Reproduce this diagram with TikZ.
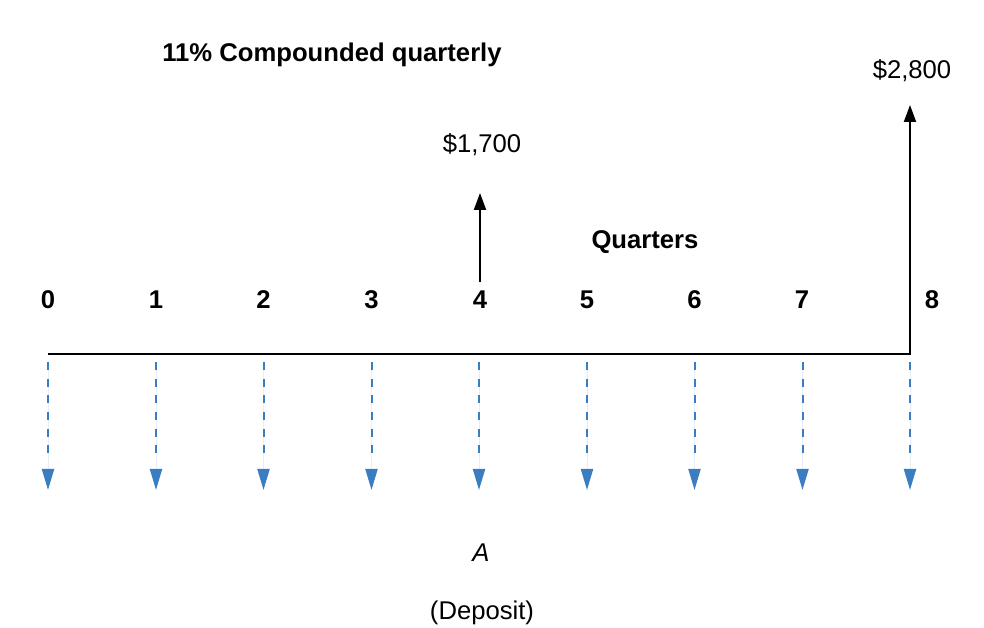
\documentclass[tikz,border=0pt]{standalone}
\usepackage{fontspec}
\setmainfont{Liberation Sans}
\usepackage{xcolor}
\usepackage{tikz}
\usetikzlibrary{positioning, arrows.meta}
\definecolor{ink}{HTML}{000000}
\definecolor{deposit}{HTML}{3A7DC0}
\tikzset{
  lbl/.style  = {font=\fontsize{14.6}{17}\selectfont\bfseries, inner sep=0pt},
  amt/.style  = {font=\fontsize{14.6}{17}\selectfont, inner sep=0pt},
  ar/.style   = {-{Triangle[length=0.34cm,width=0.24cm]}, draw=ink, line width=0.04cm},
  dep/.style  = {-{Triangle[length=0.42cm,width=0.24cm]}, draw=deposit, fill=deposit,
                 line width=0.04cm,
                 dash pattern=on 0.16cm off 0.174cm on 0.16cm off 0.174cm on 0.16cm off 0.174cm
                              on 0.16cm off 0.174cm on 0.16cm off 0.174cm on 0.16cm off 0.6cm},
}
\begin{document}
\begin{tikzpicture}
  \useasboundingbox (0,0) rectangle (19.68,12.56);

  % time axis
  \coordinate (t0) at (0.96,5.48);
  \coordinate (t1) at (3.12,5.48);
  \coordinate (t2) at (5.27,5.48);
  \coordinate (t3) at (7.43,5.48);
  \coordinate (t4) at (9.58,5.48);
  \coordinate (t5) at (11.74,5.48);
  \coordinate (t6) at (13.89,5.48);
  \coordinate (t7) at (16.05,5.48);
  \coordinate (t8) at (18.20,5.48);
  \coordinate (top8) at (18.20,10.46);
  \draw[ar] (t0) -- (t8) -- (top8);

  \node[lbl] (n0) at (0.96,6.56) {0};
  \node[lbl] (n1) at (3.12,6.56) {1};
  \node[lbl] (n2) at (5.27,6.56) {2};
  \node[lbl] (n3) at (7.43,6.56) {3};
  \node[lbl] (n4) at (9.60,6.56) {4};
  \node[lbl] (n5) at (11.74,6.56) {5};
  \node[lbl] (n6) at (13.89,6.56) {6};
  \node[lbl] (n7) at (16.04,6.56) {7};
  \node[lbl] (n8) at (18.64,6.56) {8};

  \node[lbl] (title) at (6.64,11.46) {11\% Compounded quarterly};
  \node[lbl] (quarters) at (12.90,7.72) {Quarters};

  % receipts
  \coordinate (w4) at (9.60,6.92);
  \coordinate (top4) at (9.60,8.70);
  \draw[ar] (w4) -- (top4);
  \node[amt] (r4) at (9.64,9.66) {\$1,700};
  \node[amt] (r8) at (18.24,11.14) {\$2,800};

  % deposits
  \draw[dep] ([yshift=-0.16cm]t0) -- ([yshift=-2.72cm]t0);
  \draw[dep] ([yshift=-0.16cm]t1) -- ([yshift=-2.72cm]t1);
  \draw[dep] ([yshift=-0.16cm]t2) -- ([yshift=-2.72cm]t2);
  \draw[dep] ([yshift=-0.16cm]t3) -- ([yshift=-2.72cm]t3);
  \draw[dep] ([yshift=-0.16cm]t4) -- ([yshift=-2.72cm]t4);
  \draw[dep] ([yshift=-0.16cm]t5) -- ([yshift=-2.72cm]t5);
  \draw[dep] ([yshift=-0.16cm]t6) -- ([yshift=-2.72cm]t6);
  \draw[dep] ([yshift=-0.16cm]t7) -- ([yshift=-2.72cm]t7);
  \draw[dep] ([yshift=-0.16cm]t8) -- ([yshift=-2.72cm]t8);

  \node[amt] (a) at (9.62,1.50) {\textit{A}};
  \node[amt] (dlbl) at (9.64,0.30) {(Deposit)};
\end{tikzpicture}
\end{document}
